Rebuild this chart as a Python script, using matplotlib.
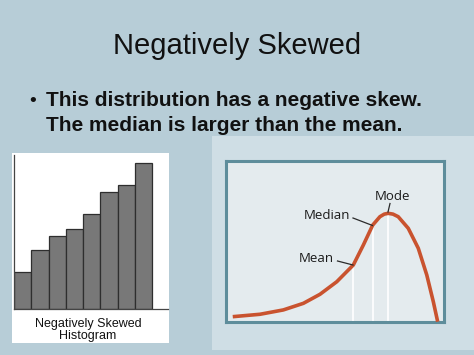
import matplotlib
matplotlib.use("Agg")
import matplotlib.pyplot as plt
from matplotlib.patches import Rectangle

# ---- data ----
title = "Negatively Skewed"
bullet_lines = ["This distribution has a negative skew.",
                "The median is larger than the mean."]
hist_label = "Negatively Skewed\nHistogram"
bar_heights = [2.5, 4, 5, 5.5, 6.5, 8, 8.5, 10]

curve_x = [3.1, 15.6, 26.3, 35.5, 43.1, 50.8, 58.4, 63.0, 67.3, 70.6, 72.6,
           74.4, 76.6, 79.0, 83.6, 88.2, 92.1, 95.1, 97.1]
curve_y = [3.3, 4.8, 7.5, 11.6, 17.2, 25.0, 35.4, 47.8, 60.2, 65.4, 67.0,
           67.5, 67.0, 65.4, 58.2, 45.8, 29.2, 12.6, 0.2]
stat_names = ["Mean", "Median", "Mode"]
stat_x = [58.4, 67.3, 74.4]
stat_y = [35.4, 60.2, 67.5]

W, H = 474, 355
fig = plt.figure(figsize=(W / 100, H / 100), dpi=100)
fig.patch.set_facecolor("#b7cdd7")

bg = fig.add_axes([0, 0, 1, 1])
bg.set_xlim(0, W)
bg.set_ylim(H, 0)
bg.axis("off")

# light panel behind the curve figure
bg.add_patch(Rectangle((212, 136), 262, 214, facecolor="#cfdee5", edgecolor="none"))
# white panel behind the histogram
bg.add_patch(Rectangle((12, 153), 157, 190, facecolor="white", edgecolor="none"))

font = "Liberation Sans"
bg.text(237, 46, title, ha="center", va="center", fontsize=21,
        family=font, color="#111111")
bg.text(33, 101, "\u2022", ha="center", va="center", fontsize=14, family=font,
        color="#111111")
bg.text(46, 101, bullet_lines[0], ha="left", va="center", fontsize=15,
        family=font, weight="bold", color="#111111")
bg.text(46, 125.5, bullet_lines[1], ha="left", va="center", fontsize=15,
        family=font, weight="bold", color="#111111")
bg.text(88, 329.5, hist_label, ha="center", va="center", fontsize=9,
        family=font, color="#111111", linespacing=1.0)

# ---- histogram ----
hx0, hy0, hw, hh = 14, 309, 154, 154
hax = fig.add_axes([hx0 / W, (H - hy0) / H, hw / W, hh / H])
hax.patch.set_alpha(0)
xs = list(range(len(bar_heights)))
hax.bar(xs, bar_heights, width=1, align="edge", color="#787878",
        edgecolor="#2e2e2e", linewidth=0.9)
hax.set_xlim(0, 154 / 17.25)
hax.set_ylim(0, 154 / 14.63)
for s in ["top", "right"]:
    hax.spines[s].set_visible(False)
for s in ["left", "bottom"]:
    hax.spines[s].set_color("#444444")
    hax.spines[s].set_linewidth(0.9)
hax.set_xticks([])
hax.set_yticks([])

# ---- skewed curve figure ----
cx0, cy0, cx1, cy1 = 226, 161, 444, 322
cax = fig.add_axes([cx0 / W, (H - cy1) / H, (cx1 - cx0) / W, (cy1 - cy0) / H])
cax.set_facecolor("#e4ebee")
cax.set_xlim(0, 100)
cax.set_ylim(0, 100)
for s in cax.spines.values():
    s.set_color("#5e8d9b")
    s.set_linewidth(2.2)
cax.set_xticks([])
cax.set_yticks([])
for sx, sy in zip(stat_x, stat_y):
    cax.plot([sx, sx], [0, sy], color="white", lw=1.2, zorder=2)
cax.plot(curve_x, curve_y, color="#c9532f", lw=2.6, solid_capstyle="butt",
         solid_joinstyle="round", zorder=3, clip_on=False)

# overlay for labels
ov = fig.add_axes([0, 0, 1, 1])
ov.set_xlim(0, W)
ov.set_ylim(H, 0)
ov.axis("off")
ov.patch.set_alpha(0)
lab_font = "Open Sans"
ov.text(393, 196, "Mode", ha="center", va="center", fontsize=9.5, family=lab_font, color="#1a1a1a")
ov.text(327, 215.5, "Median", ha="center", va="center", fontsize=9.5, family=lab_font, color="#1a1a1a")
ov.text(316, 258.5, "Mean", ha="center", va="center", fontsize=9.5, family=lab_font, color="#1a1a1a")
ov.plot([390, 388], [203.5, 212], color="#2a2a2a", lw=0.9)
ov.plot([353, 372.5], [218, 225.5], color="#2a2a2a", lw=0.9)
ov.plot([337.5, 353], [261, 265], color="#2a2a2a", lw=0.9)

fig.savefig("out.png", dpi=100, facecolor=fig.get_facecolor())
